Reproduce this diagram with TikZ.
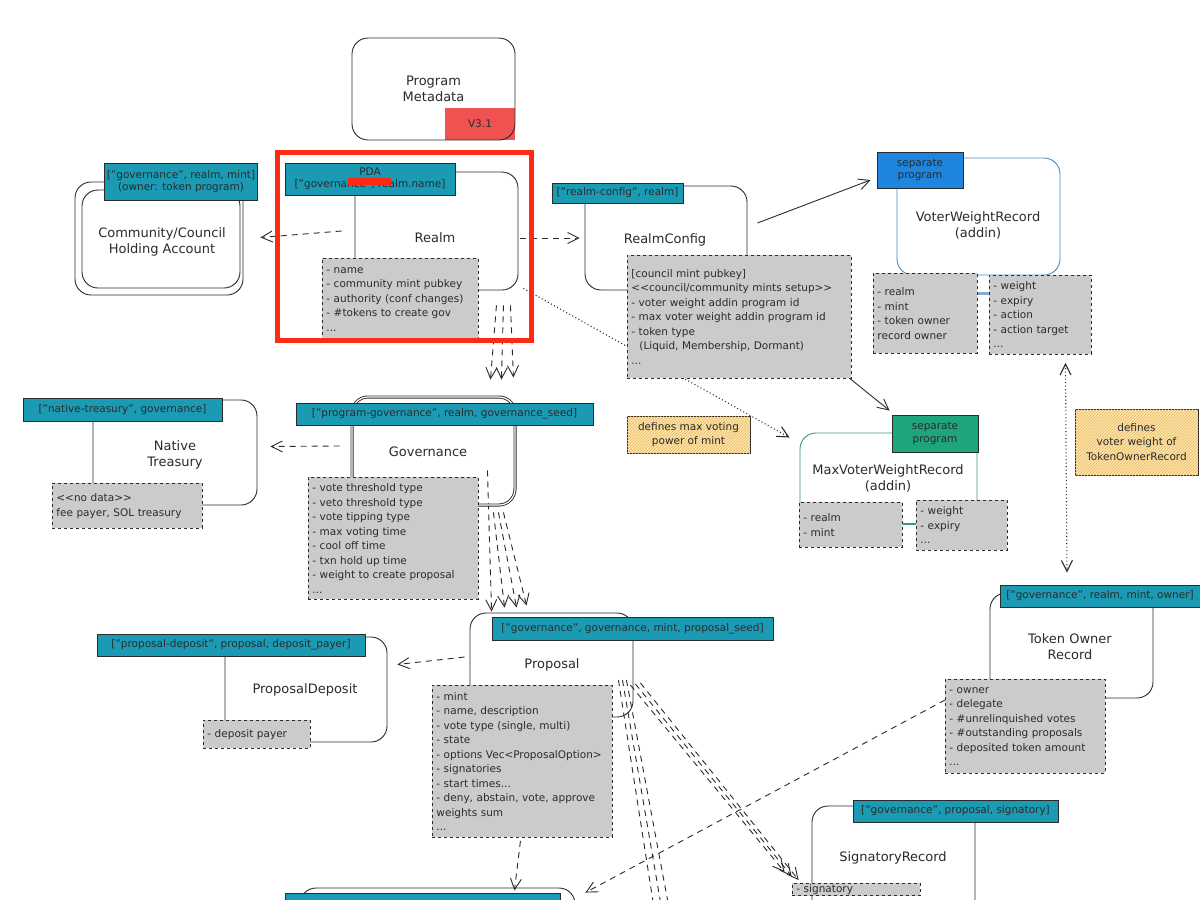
\documentclass[tikz,border=0pt]{standalone}
\usepackage{fontspec}
\setmainfont{DejaVu Sans}
\usetikzlibrary{arrows.meta,patterns,calc,backgrounds}
\pgfdeclarelayer{paper}
\pgfsetlayers{paper,background,main}
\definecolor{teal1}{HTML}{1B9AB4}
\definecolor{blue1}{HTML}{1E86DE}
\definecolor{green1}{HTML}{1FA57B}
\definecolor{redv}{HTML}{F05252}
\definecolor{redh}{HTML}{FF2A14}
\definecolor{lgray}{HTML}{CBCBCB}
\definecolor{ink}{HTML}{2B2B2B}
\definecolor{notey}{HTML}{FBE7AE}
\definecolor{hatch}{HTML}{EDB45E}
\definecolor{bluel}{HTML}{4F88C6}
\definecolor{greenl}{HTML}{2E9E7C}
\begin{document}
\begin{tikzpicture}[x=1pt,y=-1pt,
 every node/.style={font=\fontsize{10.5}{14.5}\selectfont, text=ink},
 outl/.style={draw=ink, line width=0.9pt, rounded corners=16pt, inner sep=0pt},
 ttl/.style={font=\fontsize{13}{16}\selectfont, align=center},
 pda/.style={draw=ink, fill=teal1, line width=0.9pt, align=center, inner sep=2pt, font=\fontsize{10.5}{12.5}\selectfont},
 lst/.style={draw=ink, dashed, fill=lgray, line width=0.9pt, align=left, anchor=north west, inner xsep=4pt, inner ysep=3pt},
 note/.style={draw=ink, line width=0.9pt, fill=notey, postaction={pattern=north east lines, pattern color=hatch}, align=center},
 arr/.style={-{Straight Barb[length=11pt,width=11pt]}, line width=0.9pt, draw=ink},
 darr/.style={arr, dash pattern=on 6pt off 5pt},
 dotarr/.style={arr, dash pattern=on 1pt off 2.5pt, line width=1.1pt}
]
\useasboundingbox (0,0) rectangle (1200,900);
\clip (0,0) rectangle (1200,900);
\begin{pgfonlayer}{paper}
\fill[white] (0,0) rectangle (1200,900);
\end{pgfonlayer}

% ---------- Program Metadata
\node[fill=redv, minimum width=70pt, minimum height=32pt, inner sep=0pt] (ver) at (480,124) {V3.1};
\node[outl, ttl, minimum width=163pt, minimum height=102pt] (pm) at (433.5,89) {Program\\Metadata};

% ---------- outlines
\node[outl, minimum width=168pt, minimum height=113pt] (comm) at (159,238.5) {};
\node[outl, minimum width=158pt, minimum height=98pt] (commIn) at (161,239) {};
\node[outl, minimum width=163pt, minimum height=118pt] (realm) at (436.5,231) {};
\node[outl, minimum width=162pt, minimum height=104pt] (rcO) at (666,238) {};
\node[outl, draw=bluel, minimum width=163pt, minimum height=117pt] (vwrO) at (978.5,216.5) {};
\node[outl, minimum width=164pt, minimum height=105pt] (ntO) at (175,452.5) {};
\node[outl, double, double distance=1.2pt, minimum width=163pt, minimum height=108pt] (govO) at (433.5,451) {};
\node[outl, minimum width=177pt, minimum height=91pt, draw=greenl] (mvO) at (888.5,478.5) {};
\node[outl, minimum width=163pt, minimum height=104pt] (prO) at (551.5,665) {};
\node[outl, minimum width=162pt, minimum height=105pt] (pdO) at (306,689.5) {};
\node[outl, minimum width=163pt, minimum height=105pt] (torO) at (1071.5,645.5) {};
\node[outl, minimum width=163pt, minimum height=174pt] (sigO) at (893.5,893) {};
\node[outl, minimum width=275pt, minimum height=112pt] (blO) at (437.5,944) {};

% ---------- titles
\node[ttl] (commT) at (162,242) {Community/Council\\Holding Account};
\node[ttl] (realmT) at (435,238) {Realm};
\node[ttl] (rcT) at (665,240) {RealmConfig};
\node[ttl] (vwrT) at (978,225) {VoterWeightRecord\\(addin)};
\node[ttl] (ntT) at (175,455) {Native\\Treasury};
\node[ttl] (govT) at (428,452) {Governance};
\node[ttl] (prT) at (552,665) {Proposal};
\node[ttl] (pdT) at (305,690) {ProposalDeposit};
\node[ttl] (mvT) at (888,478) {MaxVoterWeightRecord\\(addin)};
\node[ttl] (torT) at (1070,647) {Token Owner\\Record};
\node[ttl] (sigT) at (893,858) {SignatoryRecord};

% ---------- PDA labels
\node[pda, minimum width=152pt, minimum height=37pt] (commLab) at (181,181.5) {["governance", realm, mint]\\(owner: token program)};
\node[pda, minimum width=170pt, minimum height=32pt] (realmLab) at (370,179) {PDA\\{}["governance", realm.name]};
\fill[redh] (348,178) rectangle (391,185);
\node[pda, minimum width=131pt, minimum height=20pt] (rcLab) at (617.5,193) {["realm-config", realm]};
\node[pda, fill=blue1, minimum width=86pt, minimum height=36pt] (vwrLab) at (920,170) {separate\\program};
\node[pda, minimum width=199pt, minimum height=23pt] (ntLab) at (122.5,409.5) {["native-treasury", governance]};
\node[pda, minimum width=297pt, minimum height=22pt] (govLab) at (444.5,414) {["program-governance", realm, governance\_seed]};
\node[pda, minimum width=281pt, minimum height=23pt] (prLab) at (632.5,628.5) {["governance", governance, mint, proposal\_seed]};
\node[pda, minimum width=268pt, minimum height=22pt] (pdLab) at (231,645) {["proposal-deposit", proposal, deposit\_payer]};
\node[pda, fill=green1, minimum width=86pt, minimum height=37pt] (mvLab) at (935,433.5) {separate\\program};
\node[pda, minimum width=200pt, minimum height=22pt] (torLab) at (1100,596) {["governance", realm, mint, owner]};
\node[pda, minimum width=205pt, minimum height=22pt] (sigLab) at (955.5,811) {["governance", proposal, signatory]};
\node[pda, minimum width=275pt, minimum height=27pt] (blLab) at (422.5,906.5) {};

% ---------- lists
\node[lst, text width=148pt, minimum height=82pt] (realmL) at (322,258) {- name\\- community mint pubkey\\- authority (conf changes)\\- \#tokens to create gov\\...};
\node[lst, text width=216pt, minimum height=123pt] (rcL) at (627,255) {[council mint pubkey]\\<\kern0pt<council/community mints setup>\kern0pt>\\- voter weight addin program id\\- max voter weight addin program id\\- token type\\\hspace*{8pt}(Liquid, Membership, Dormant)\\...};
\node[lst, text width=96pt, minimum height=80pt] (vwrL1) at (873,273) {- realm\\- mint\\- token owner\\record owner};
\node[lst, text width=94pt, minimum height=79pt] (vwrL2) at (989,275) {- weight\\- expiry\\- action\\- action target\\...};
\node[lst, text width=142pt, minimum height=45pt] (ntL) at (52,483) {<\kern0pt<no data>\kern0pt>\\fee payer, SOL treasury};
\node[lst, text width=162pt, minimum height=122pt] (govL) at (308,477) {- vote threshold type\\- veto threshold type\\- vote tipping type\\- max voting time\\- cool off time\\- txn hold up time\\- weight to create proposal\\...};
\node[lst, text width=172pt, minimum height=152pt] (prL) at (432,685) {- mint\\- name, description\\- vote type (single, multi)\\- state\\- options Vec<ProposalOption>\\- signatories\\- start times...\\- deny, abstain, vote, approve\\weights sum\\...};
\node[lst, text width=99pt, minimum height=28pt] (pdL) at (203,720) {- deposit payer};
\node[lst, text width=95pt, minimum height=45pt] (mvL1) at (799,502) {- realm\\- mint};
\node[lst, text width=83pt, minimum height=50pt] (mvL2) at (916,500) {- weight\\- expiry\\...};
\node[lst, text width=152pt, minimum height=94pt] (torL) at (945,679) {- owner\\- delegate\\- \#unrelinquished votes\\- \#outstanding proposals\\- deposited token amount\\...};
\node[lst, text width=120pt, inner ysep=1pt] (sigL) at (792,883) {- signatory};

% ---------- notes
\node[note, minimum width=123pt, minimum height=37pt] (note1) at (688.5,434.5) {defines max voting\\power of mint};
\node[note, minimum width=123pt, minimum height=66pt] (note2) at (1136.5,442) {defines\\voter weight of\\TokenOwnerRecord};

% ---------- connectors
\begin{scope}[on background layer]
\draw[darr] ($(realm.west)+(-13,0)$) -- ($(comm.east)+(17,-1)$);
\draw[darr] ($(realm.east)+(2,7)$) -- ($(rcO.west)+(-5,0)$);
\draw[arr] ($(rcO.east)+(10,-15)$) -- ($(vwrLab.west)+(-6,10)$);
\draw[arr] ($(rcL.south east)+(-4,-2)$) -- ($(mvLab.north west)+(-2,-4)$);
\draw[dotarr] ($(realm.south east)+(5,-2)$) -- ($(mvO.north west)+(-10,5)$);
% realm -> governance
\draw[darr] ($(realm.south east)+(-22,15)$) -- ($(govO.north east)+(-25,-17)$);
\draw[darr] ($(realm.south east)+(-15,15)$) -- ($(govO.north east)+(-14,-17)$);
\draw[darr] ($(realm.south east)+(-8,15)$) -- ($(govO.north east)+(-2,-19)$);
% governance -> native treasury
\draw[darr] ($(govO.west)+(-12,-5)$) -- ($(ntO.east)+(13,-6)$);
% governance -> proposal
\draw[darr] ($(govO.south east)+(-28,-35)$) -- ($(prO.north west)+(22,-1)$);
\draw[darr] ($(govO.south east)+(-22,7)$) -- ($(prO.north west)+(35,-5)$);
\draw[darr] ($(govO.south east)+(-17,7)$) -- ($(prO.north west)+(47,-5)$);
\draw[darr] ($(govO.south east)+(-12,7)$) -- ($(prO.north west)+(57,-7)$);
% proposal -> deposit
\draw[darr] ($(prO.west)+(-5,-8)$) -- ($(pdO.east)+(10,-25)$);
% proposal list -> bottom box
\draw[darr] ($(prL.south)+(-2,3)$) -- ($(blLab.north east)+(-46,-2)$);
% proposal -> bottom (off canvas)
\coordinate (off1) at (659,940);
\coordinate (off2) at (667,940);
\coordinate (off3) at (675,940);
\draw[darr] ($(prO.east)+(-15,15)$) -- (off1);
\draw[darr] ($(prO.east)+(-11,15)$) -- (off2);
\draw[darr] ($(prO.east)+(-7,15)$) -- (off3);
% proposal -> signatory
\draw[darr] ($(prO.east)+(-3,20)$) -- ($(sigO.west)+(-27,-21)$);
\draw[darr] ($(prO.east)+(2,19)$) -- ($(sigO.west)+(-20,-17)$);
\draw[darr] ($(prO.east)+(7,18)$) -- ($(sigO.west)+(-13,-13)$);
% token owner record -> bottom box
\draw[darr] ($(torL.north west)+(0,21)$) -- ($(blO.north east)+(10,5)$);
% voter weight <-> token owner record
\draw[dotarr, {Straight Barb[length=11pt,width=11pt]}-{Straight Barb[length=11pt,width=11pt]}] ($(vwrL2.south)+(25,8)$) -- ($(torLab.north)+(-33,-12)$);
% list links
\draw[line width=3pt, bluel!70] ($(vwrL1.north east)+(0,20)$) -- ($(vwrL2.north west)+(0,18)$);
\draw[line width=2pt, greenl] ($(mvL1.north east)+(0,22)$) -- ($(mvL2.north west)+(0,24)$);
\end{scope}

% ---------- highlight
\node[draw=redh, line width=5pt, minimum width=254pt, minimum height=188pt, inner sep=0pt] (hl) at (404,246) {};
\end{tikzpicture}
\end{document}
